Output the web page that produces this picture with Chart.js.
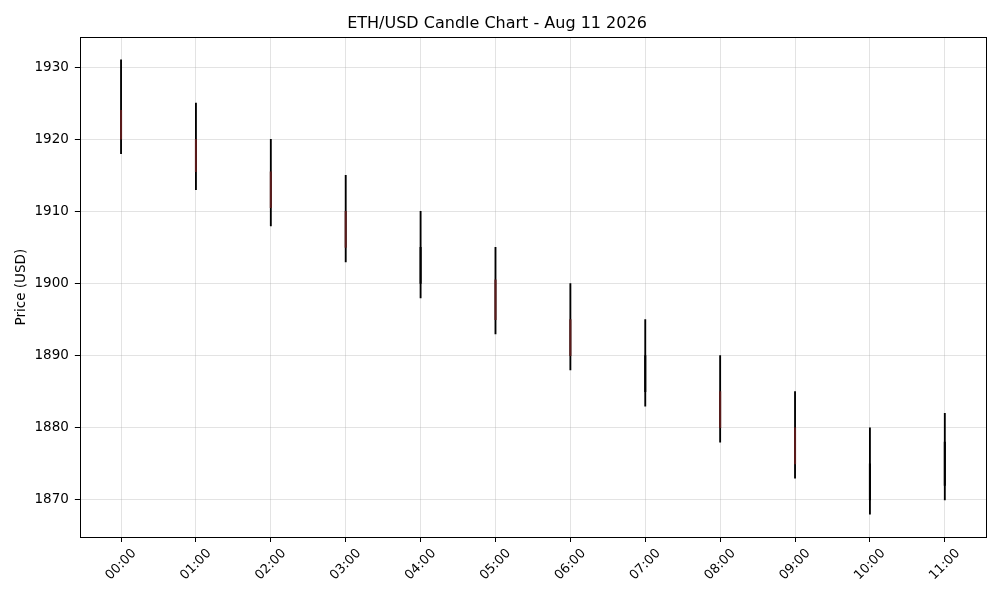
<!DOCTYPE html>
<html>
<head>
<meta charset="utf-8">
<script src="https://cdn.jsdelivr.net/npm/chart.js@4.4.1/dist/chart.umd.min.js"></script>
<style>
html,body{margin:0;padding:0;background:#fff;}
#wrap{width:1000px;height:600px;}
</style>
</head>
<body>
<div id="wrap"><canvas id="c"></canvas></div>
<script>
const timeLabels = ["00:00","01:00","02:00","03:00","04:00","05:00","06:00","07:00","08:00","09:00","10:00","11:00"];
const openPrices  = [1924, 1920, 1915.5, 1910, 1900, 1900.5, 1895, 1885, 1885, 1880, 1870, 1872];
const closePrices = [1920, 1915.5, 1910.5, 1905, 1905, 1895, 1890, 1890, 1880, 1875, 1875, 1878];
const highPrices  = [1931, 1925, 1920, 1915, 1910, 1905, 1900, 1895, 1890, 1885, 1880, 1882];
const lowPrices   = [1918, 1913, 1908, 1903, 1898, 1893, 1888, 1883, 1878, 1873, 1868, 1870];
const yTicks = [1870, 1880, 1890, 1900, 1910, 1920, 1930];

const wickData = timeLabels.map((t, i) => ({x: i, y: [lowPrices[i], highPrices[i]]}));
const bodyData = timeLabels.map((t, i) => ({x: i, y: [openPrices[i], closePrices[i]]}));
const bodyColors = timeLabels.map((t, i) => closePrices[i] < openPrices[i] ? '#5a1a1a' : '#000000');

const frame = {
  id: 'frame',
  afterDraw(chart) {
    const a = chart.chartArea, ctx = chart.ctx;
    ctx.save();
    ctx.strokeStyle = '#000';
    ctx.lineWidth = 1;
    ctx.strokeRect(Math.round(a.left) + 0.5, Math.round(a.top) + 0.5, Math.round(a.right - a.left), Math.round(a.bottom - a.top));
    // x tick labels, rotated 45deg and centred under each tick
    const xs = chart.scales.x;
    ctx.fillStyle = '#000';
    ctx.font = '13px "DejaVu Sans"';
    ctx.textAlign = 'center';
    ctx.textBaseline = 'middle';
    const h = 9.5;
    timeLabels.forEach((t, i) => {
      const px = xs.getPixelForValue(i);
      const w = ctx.measureText(t).width;
      const boxH = (w + h) * Math.SQRT1_2;
      const cy = a.bottom + 11 + boxH / 2;
      ctx.save();
      ctx.translate(px, cy);
      ctx.rotate(-Math.PI / 4);
      ctx.fillText(t, 0, 0);
      ctx.restore();
    });
    ctx.restore();
  }
};

new Chart(document.getElementById('c'), {
  type: 'bar',
  data: {
    datasets: [
      {label: 'Body', data: bodyData, backgroundColor: bodyColors, barThickness: 1.4, order: 0},
      {label: 'Wick', data: wickData, backgroundColor: '#000', barThickness: 1.2, order: 1}
    ]
  },
  options: {
    responsive: true,
    maintainAspectRatio: false,
    animation: false,
    layout: {padding: {left: 8, right: 14, top: 2, bottom: 58}},
    plugins: {
      legend: {display: false},
      tooltip: {enabled: false},
      title: {
        display: true,
        text: 'ETH/USD Candle Chart - Aug 11 2026',
        color: '#000',
        font: {family: 'DejaVu Sans', size: 16, weight: 'normal'},
        padding: {top: 12, bottom: 4}
      }
    },
    scales: {
      x: {
        type: 'linear',
        min: -0.55,
        max: 11.55,
        offset: false,
        afterBuildTicks(axis) { axis.ticks = timeLabels.map((t, i) => ({value: i})); },
        ticks: {display: false},
        grid: {offset: false, color: 'rgba(176,176,176,0.35)', tickColor: '#000', tickLength: 5, drawTicks: true},
        border: {display: false}
      },
      y: {
        type: 'linear',
        min: 1864.85,
        max: 1934.15,
        afterBuildTicks(axis) { axis.ticks = yTicks.map(v => ({value: v})); },
        ticks: {
          color: '#000',
          font: {family: 'DejaVu Sans', size: 13.5},
          padding: 6,
          callback: (v) => String(v)
        },
        grid: {color: 'rgba(176,176,176,0.35)', tickColor: '#000', tickLength: 5},
        border: {display: false},
        title: {
          display: true,
          text: 'Price (USD)',
          color: '#000',
          font: {family: 'DejaVu Sans', size: 13.5, lineHeight: 1},
          padding: {top: 7, bottom: 0}
        }
      }
    },
    datasets: {bar: {grouped: false}}
  },
  plugins: [frame]
});
</script>
</body>
</html>
